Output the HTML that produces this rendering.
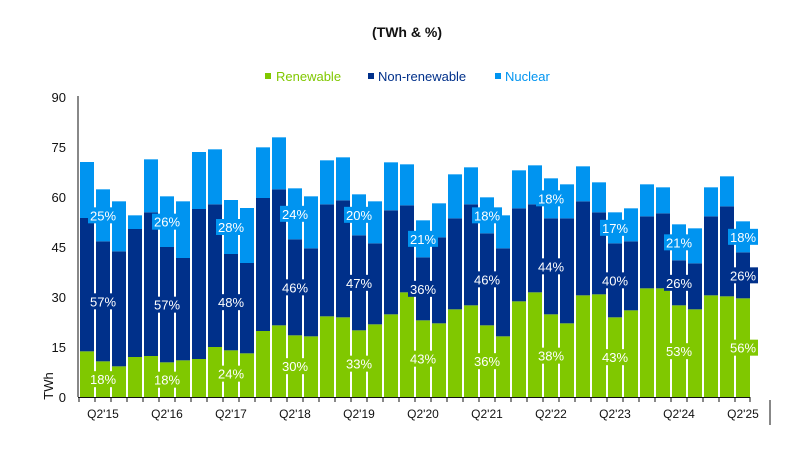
<!DOCTYPE html>
<html><head><meta charset="utf-8"><style>
html,body{margin:0;padding:0;background:#fff;}
svg{display:block;font-family:"Liberation Sans",sans-serif;}
</style></head><body>
<svg id="c" width="800" height="450" viewBox="0 0 800 450" xmlns="http://www.w3.org/2000/svg">
<text x="407" y="37" text-anchor="middle" font-size="14" font-weight="bold" fill="#111">(TWh &amp; %)</text>
<rect x="265" y="73" width="6" height="6" fill="#80c800"/>
<text x="276" y="81" font-size="13" fill="#80c800">Renewable</text>
<rect x="368" y="73" width="6" height="6" fill="#00308a"/>
<text x="378" y="81" font-size="13" fill="#00308a">Non-renewable</text>
<rect x="495" y="73" width="6" height="6" fill="#0094f0"/>
<text x="505" y="81" font-size="13" fill="#0094f0">Nuclear</text>
<g font-size="13" fill="#111" text-anchor="end">
<text x="66" y="102">90</text><text x="66" y="152">75</text><text x="66" y="202">60</text>
<text x="66" y="252">45</text><text x="66" y="302">30</text><text x="66" y="352">15</text><text x="66" y="402">0</text>
</g>
<text transform="translate(53,386) rotate(-90)" font-size="13" fill="#111" text-anchor="middle">TWh</text>
<line x1="78" y1="96" x2="78" y2="397" stroke="#111" stroke-width="1"/>
<line x1="770" y1="400" x2="770" y2="425" stroke="#111" stroke-width="1"/>
<g id="bars"></g>
</svg>
<script>
var d=[[13.7,53.7,70.5],[10.7,46.7,62.3],[9.2,43.7,58.7],[12,50.4,54.5],[12.3,55.4,71.3],[10.4,45,60.2],[11,41.7,58.7],[11.4,56.4,73.5],[15,57.8,74.3],[14,42.9,59.1],[13.1,40.2,56.7],[19.8,59.7,74.9],[21.5,62.3,77.9],[18.5,47.3,62.6],[18.2,44.6,60.2],[24.2,57.8,71],[23.9,59,71.9],[20,48.5,60.8],[21.8,46.1,58.7],[24.8,56,70.4],[31.4,57.5,69.8],[23,41.9,53],[22.1,47.9,58.1],[26.3,53.6,66.8],[27.5,57.8,68.9],[21.5,49.1,59.9],[18.2,44.6,54.5],[28.7,56.6,68],[31.4,57.8,69.5],[24.8,53.6,65.6],[22.1,53.6,63.8],[30.5,58.7,69.2],[30.8,55.4,64.4],[23.9,46.1,55.4],[26,46.7,56.6],[32.6,54.2,63.8],[32.6,55.1,62.9],[27.5,41,51.8],[26.3,40.1,50.6],[30.5,54.2,62.9],[30.2,57.2,66.2],[29.6,43.4,52.7]];
var lab={1:["18%","57%","25%"],5:["18%","57%","26%"],9:["24%","48%","28%"],13:["30%","46%","24%"],17:["33%","47%","20%"],21:["43%","36%","21%"],25:["36%","46%","18%"],29:["38%","44%","18%"],33:["43%","40%","17%"],37:["53%","26%","21%"],41:["56%","26%","18%"]};
var cols=["#80c800","#00308a","#0094f0"];
function Y(v){return 397-v*300/90;}
var s="",t="";
for(var i=0;i<d.length;i++){
 var x=80+i*16,p=0;
 for(var k=0;k<3;k++){var v=d[i][k];s+='<rect x="'+x+'" y="'+Y(v)+'" width="14" height="'+(Y(p)-Y(v))+'" fill="'+cols[k]+'"/>';p=v;}
 s+='<line x1="'+(x-1)+'" y1="397" x2="'+(x-1)+'" y2="402" stroke="#111"/>';
 if(lab[i]){
  var cx=x+7;
  t+='<text x="'+cx+'" y="418" font-size="12" fill="#111" text-anchor="middle">Q2\''+(15+(i-1)/4)+'</text>';
  p=0;
  for(var k=0;k<3;k++){var v=d[i][k],m=Y((p+v)/2);
   t+='<rect x="'+(cx-15)+'" y="'+(m-8)+'" width="30" height="16" fill="'+cols[k]+'"/>';
   t+='<text x="'+cx+'" y="'+(m+5)+'" font-size="13" fill="#fff" text-anchor="middle">'+lab[i][k]+'</text>';p=v;}
 }
}
s+='<line x1="79" y1="402" x2="79" y2="397" stroke="#111"/><line x1="750" y1="397" x2="750" y2="402" stroke="#111"/>';
s+='<line x1="78" y1="397.5" x2="750" y2="397.5" stroke="#111"/>';
document.getElementById("bars").innerHTML=s+t;
</script>
</body></html>
